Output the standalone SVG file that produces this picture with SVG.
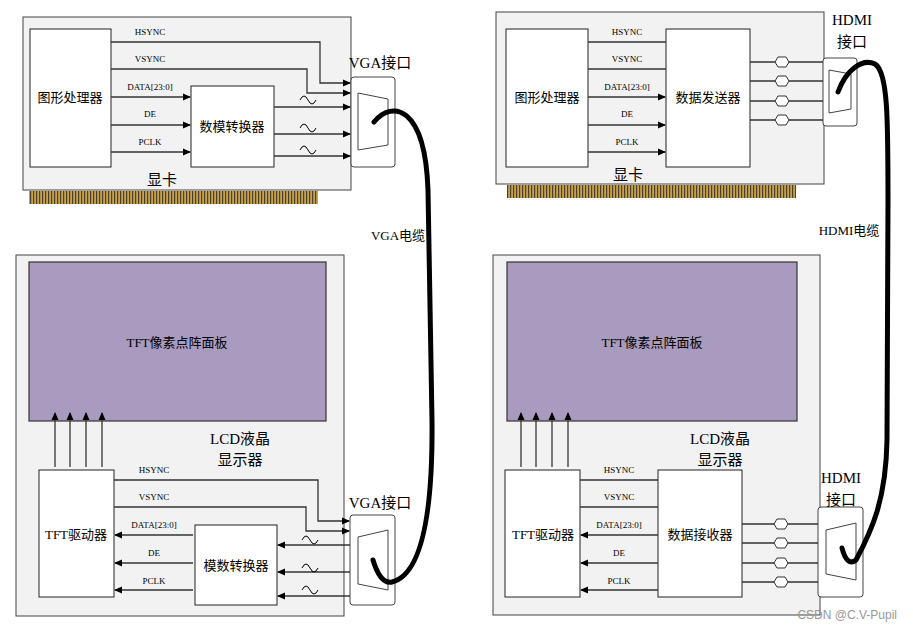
<svg xmlns="http://www.w3.org/2000/svg" width="913" height="631" viewBox="0 0 913 631">
<defs>
<marker id="ar" markerWidth="8" markerHeight="8" refX="7" refY="4" orient="auto" markerUnits="userSpaceOnUse"><path d="M0,0.5 L8,4 L0,7.5 Z" fill="#000"/></marker>
<pattern id="gold" width="3" height="13" patternUnits="userSpaceOnUse"><rect width="3" height="13" fill="#c9a447"/><rect width="1.2" height="13" fill="#4a4030"/></pattern>
<style>
.card{fill:#f2f2f2;stroke:#444;stroke-width:1}
.box{fill:#fff;stroke:#222;stroke-width:1}
.panel{fill:#a99bbf;stroke:#333;stroke-width:1.2}
.conn{fill:#fff;stroke:#444;stroke-width:1}
.ln{fill:none;stroke:#333;stroke-width:1.3}
.la{fill:none;stroke:#333;stroke-width:1.3;marker-end:url(#ar)}
.hex{fill:#fff;stroke:#333;stroke-width:1}
.cable{fill:none;stroke:#000;stroke-width:5;stroke-linecap:round}
.sig{font-family:"Liberation Serif",serif;font-size:9px;fill:#000}
.t{font-family:"Liberation Serif","Noto Sans CJK SC",serif;font-size:13px;fill:#000}
.tb{font-family:"Liberation Serif","Noto Sans CJK SC",serif;font-size:15px;fill:#000}
.wave{fill:none;stroke:#000;stroke-width:1}
</style>
</defs>
<g id="card-vga">
<rect x="29" y="191" width="289" height="13" fill="url(#gold)"/>
<rect class="card" x="23" y="17" width="328" height="173"/>
<text class="tb" x="162" y="185" text-anchor="middle">显卡</text>
</g>
<g id="gpu1"><rect class="box" x="30" y="29" width="81" height="138"/><text class="t" x="70" y="102" text-anchor="middle">图形处理器</text></g>
<g id="dac"><rect class="box" x="191" y="86" width="83" height="81"/><text class="t" x="232" y="131" text-anchor="middle">数模转换器</text></g>
<g id="vga-top"><rect class="conn" x="351" y="77" width="44" height="90" rx="3"/><path class="conn" d="M358,93 L388,99 L388,145 L358,150 Z"/><text class="tb" x="380" y="68" text-anchor="middle">VGA接口</text></g>

<g id="card-hdmi">
<rect x="507" y="185" width="289" height="13" fill="url(#gold)"/>
<rect class="card" x="496" y="12" width="328" height="172"/>
<text class="tb" x="628" y="180" text-anchor="middle">显卡</text>
</g>
<g id="gpu2"><rect class="box" x="506" y="29" width="82" height="138"/><text class="t" x="547" y="102" text-anchor="middle">图形处理器</text></g>
<g id="tx"><rect class="box" x="666" y="29" width="84" height="138"/><text class="t" x="708" y="102" text-anchor="middle">数据发送器</text></g>
<g id="hdmi-top"><rect class="conn" x="823" y="58" width="34" height="68" rx="3"/><path class="conn" d="M829,70 L851,74 L851,109 L829,113 Z"/><text class="tb" x="852" y="25" text-anchor="middle">HDMI</text><text class="tb" x="852" y="47" text-anchor="middle">接口</text></g>

<g id="lcd-vga">
<rect class="card" x="16" y="255" width="328" height="361"/>
<rect class="panel" x="29" y="262" width="297" height="159"/>
<text class="t" x="177" y="347" text-anchor="middle">TFT像素点阵面板</text>
<text class="tb" x="240" y="444" text-anchor="middle">LCD液晶</text>
<text class="tb" x="240" y="465" text-anchor="middle">显示器</text>
</g>
<g id="tft1"><rect class="box" x="39" y="470" width="75" height="127"/><text class="t" x="76" y="539" text-anchor="middle">TFT驱动器</text></g>
<g id="adc"><rect class="box" x="195" y="525" width="82" height="80"/><text class="t" x="236" y="570" text-anchor="middle">模数转换器</text></g>
<g id="vga-bot"><rect class="conn" x="350" y="515" width="45" height="90" rx="3"/><path class="conn" d="M358,537 L388,530 L388,590 L358,584 Z"/><text class="tb" x="380" y="508" text-anchor="middle">VGA接口</text></g>

<g id="lcd-hdmi">
<rect class="card" x="493" y="255" width="327" height="360"/>
<rect class="panel" x="507" y="262" width="290" height="159"/>
<text class="t" x="652" y="347" text-anchor="middle">TFT像素点阵面板</text>
<text class="tb" x="720" y="444" text-anchor="middle">LCD液晶</text>
<text class="tb" x="720" y="465" text-anchor="middle">显示器</text>
</g>
<g id="tft2"><rect class="box" x="505" y="470" width="75" height="127"/><text class="t" x="543" y="539" text-anchor="middle">TFT驱动器</text></g>
<g id="rx"><rect class="box" x="658" y="470" width="84" height="127"/><text class="t" x="700" y="539" text-anchor="middle">数据接收器</text></g>
<g id="hdmi-bot"><rect class="conn" x="818" y="507" width="45" height="90" rx="3"/><path class="conn" d="M826,530 L856,523 L856,580 L826,574 Z"/><text class="tb" x="841" y="483" text-anchor="middle">HDMI</text><text class="tb" x="841" y="505" text-anchor="middle">接口</text></g>

<g id="connectors">
<!-- top-left -->
<path class="la" d="M111,42 H320 V83 H350"/>
<path class="la" d="M111,69 H307 V93 H350"/>
<path class="la" d="M111,97 H190"/>
<path class="la" d="M111,125 H190"/>
<path class="la" d="M111,152 H190"/>
<path class="la" d="M274,107 H350"/>
<path class="la" d="M274,134 H350"/>
<path class="la" d="M274,156 H350"/>
<path class="wave" d="M300,100 q4,-8 8,0 t8,0"/>
<path class="wave" d="M300,128 q4,-8 8,0 t8,0"/>
<path class="wave" d="M300,150 q4,-8 8,0 t8,0"/>
<!-- top-right -->
<path class="ln" d="M588,42 H666 M588,69 H666"/>
<path class="la" d="M588,97 H665"/>
<path class="la" d="M588,125 H665"/>
<path class="la" d="M588,152 H665"/>
<path class="ln" d="M750,62 H823 M750,81 H823 M750,101 H823 M750,120 H823"/>
<g class="hex">
<path d="M778,57 h8 l3,5 l-3,5 h-8 l-3,-5 Z"/>
<path d="M778,76 h8 l3,5 l-3,5 h-8 l-3,-5 Z"/>
<path d="M778,96 h8 l3,5 l-3,5 h-8 l-3,-5 Z"/>
<path d="M778,115 h8 l3,5 l-3,5 h-8 l-3,-5 Z"/>
</g>
<!-- bottom-left -->
<path class="la" d="M55,467 V413"/><path class="la" d="M70,467 V413"/><path class="la" d="M86,467 V413"/><path class="la" d="M102,467 V413"/>
<path class="la" d="M114,480 H318 V521 H349"/>
<path class="la" d="M114,507 H306 V531 H349"/>
<path class="la" d="M193,535 H115"/>
<path class="la" d="M193,563 H115"/>
<path class="la" d="M193,590 H115"/>
<path class="la" d="M350,545 H278"/>
<path class="la" d="M350,572 H278"/>
<path class="la" d="M350,596 H278"/>
<path class="wave" d="M302,540 q4,-8 8,0 t8,0"/>
<path class="wave" d="M302,568 q4,-8 8,0 t8,0"/>
<path class="wave" d="M302,590 q4,-8 8,0 t8,0"/>
<!-- bottom-right -->
<path class="la" d="M521,467 V413"/><path class="la" d="M536,467 V413"/><path class="la" d="M552,467 V413"/><path class="la" d="M568,467 V413"/>
<path class="ln" d="M580,480 H658 M580,507 H658"/>
<path class="la" d="M658,535 H581"/>
<path class="la" d="M658,563 H581"/>
<path class="la" d="M658,590 H581"/>
<path class="ln" d="M742,524 H818 M742,543 H818 M742,563 H818 M742,582 H818"/>
<g class="hex">
<path d="M777,519 h8 l3,5 l-3,5 h-8 l-3,-5 Z"/>
<path d="M777,538 h8 l3,5 l-3,5 h-8 l-3,-5 Z"/>
<path d="M777,558 h8 l3,5 l-3,5 h-8 l-3,-5 Z"/>
<path d="M777,577 h8 l3,5 l-3,5 h-8 l-3,-5 Z"/>
</g>
<!-- cables -->
<path class="cable" d="M374,122 C392,100 425,105 428,190 L432,420 C433,520 420,575 392,582 C382,584 376,570 373,560"/>
<path class="cable" d="M838,92 C846,70 862,58 875,64 C888,72 888,120 888,200 L887,440 C886,500 872,530 856,560 C850,565 845,560 842,548"/>
<text class="t" x="398" y="240" text-anchor="middle">VGA电缆</text>
<text class="t" x="849" y="235" text-anchor="middle">HDMI电缆</text>
</g>
<g id="labels" class="sig">
<text x="150" y="35" text-anchor="middle">HSYNC</text>
<text x="150" y="62" text-anchor="middle">VSYNC</text>
<text x="150" y="90" text-anchor="middle">DATA[23:0]</text>
<text x="150" y="117" text-anchor="middle">DE</text>
<text x="150" y="145" text-anchor="middle">PCLK</text>
<text x="627" y="35" text-anchor="middle">HSYNC</text>
<text x="627" y="62" text-anchor="middle">VSYNC</text>
<text x="627" y="90" text-anchor="middle">DATA[23:0]</text>
<text x="627" y="117" text-anchor="middle">DE</text>
<text x="627" y="145" text-anchor="middle">PCLK</text>
<text x="154" y="473" text-anchor="middle">HSYNC</text>
<text x="154" y="500" text-anchor="middle">VSYNC</text>
<text x="154" y="528" text-anchor="middle">DATA[23:0]</text>
<text x="154" y="556" text-anchor="middle">DE</text>
<text x="154" y="584" text-anchor="middle">PCLK</text>
<text x="619" y="473" text-anchor="middle">HSYNC</text>
<text x="619" y="500" text-anchor="middle">VSYNC</text>
<text x="619" y="528" text-anchor="middle">DATA[23:0]</text>
<text x="619" y="556" text-anchor="middle">DE</text>
<text x="619" y="584" text-anchor="middle">PCLK</text>
</g>
<text x="897" y="619" text-anchor="end" font-family="Liberation Sans,sans-serif" font-size="12" fill="#999">CSDN @C.V-Pupil</text>
</svg>
